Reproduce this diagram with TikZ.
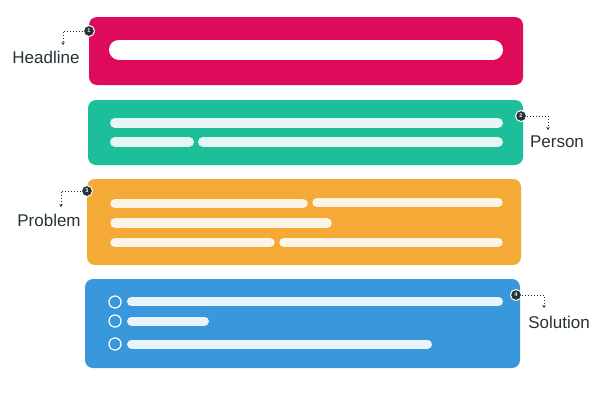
\documentclass[tikz,border=0pt]{standalone}
\usepackage{fontspec}
\setmainfont{Liberation Sans}
\usepackage{tikz}
\usetikzlibrary{arrows.meta}
\definecolor{cred}{RGB}{222, 11, 91}
\definecolor{cteal}{RGB}{29, 191, 155}
\definecolor{corange}{RGB}{245, 170, 55}
\definecolor{cblue}{RGB}{56, 152, 219}
\definecolor{ctext}{RGB}{38, 50, 56}
\definecolor{tealbar}{RGB}{230, 247, 243}
\definecolor{orangebar}{RGB}{254, 244, 230}
\definecolor{bluebar}{RGB}{232, 243, 251}
\tikzset{
  box/.style={rectangle, rounded corners=8pt, inner sep=0pt},
  bar/.style={line cap=round},
  badge/.style={circle, minimum size=11pt, inner sep=0pt, fill=ctext, draw=white, line width=1pt, text=white, font=\fontsize{5.5}{5.5}\selectfont\bfseries},
  label/.style={text=ctext, font=\fontsize{17}{17}\selectfont, inner sep=0pt},
  callout/.style={dotted, line width=1pt, color=ctext, -{Stealth[length=3pt,width=3.5pt]}}
}
\begin{document}
\begin{tikzpicture}[x=1pt, y=-1pt]
\useasboundingbox (0,0) rectangle (600,400);
% boxes
\node (headline box) [box, fill=cred, minimum width=434pt, minimum height=68pt] at (306,51) {};
\node (person box) [box, fill=cteal, minimum width=435pt, minimum height=65pt] at (305.5,132.5) {};
\node (problem box) [box, fill=corange, minimum width=434pt, minimum height=86pt] at (304,222) {};
\node (solution box) [box, fill=cblue, minimum width=435pt, minimum height=89pt] at (302.5,323.5) {};
% bars
\draw [bar, line width=20pt, white] (119,49.5) -- (493,49.5);
\draw [bar, line width=10pt, tealbar] (115,123) -- (498,123);
\draw [bar, line width=10pt, tealbar] (115,142) -- (189,142);
\draw [bar, line width=10pt, tealbar] (203,142) -- (498,142);
\draw [bar, line width=9.5pt, orangebar] (115,203.5) -- (303,203.5);
\draw [bar, line width=9.5pt, orangebar] (317,202.5) -- (498,202.5);
\draw [bar, line width=9.5pt, orangebar] (115,223) -- (327,223);
\draw [bar, line width=9.5pt, orangebar] (115,242.5) -- (270,242.5);
\draw [bar, line width=9.5pt, orangebar] (284,242.5) -- (498,242.5);
\draw [bar, line width=9pt, bluebar] (131.5,301.5) -- (498.5,301.5);
\draw [bar, line width=9pt, bluebar] (131.5,321) -- (204.5,321);
\draw [bar, line width=9pt, bluebar] (131.5,344) -- (427.5,344);
\foreach \y in {302,321,344}
  \draw [white, line width=1.2pt] (115,\y) circle (6pt);
% badges and labels
\node (b1) [badge] at (89,31) {1};
\node (b2) [badge] at (521,116) {2};
\node (b3) [badge] at (87,191) {3};
\node (b4) [badge] at (516,295) {4};
\node (headline) [label] at (46,57) {Headline};
\node (person) [label] at (557,142) {Person};
\node (problem) [label] at (49,220) {Problem};
\node (solution) [label] at (559,322) {Solution};
\coordinate (t1) at (63,45);
\coordinate (t2) at (548,130);
\coordinate (t3) at (61,207);
\coordinate (t4) at (544,308);
\draw [callout] (b1.west) -| (t1);
\draw [callout] (b2.east) -| (t2);
\draw [callout] (b3.west) -| (t3);
\draw [callout] (b4.east) -| (t4);
\end{tikzpicture}
\end{document}
